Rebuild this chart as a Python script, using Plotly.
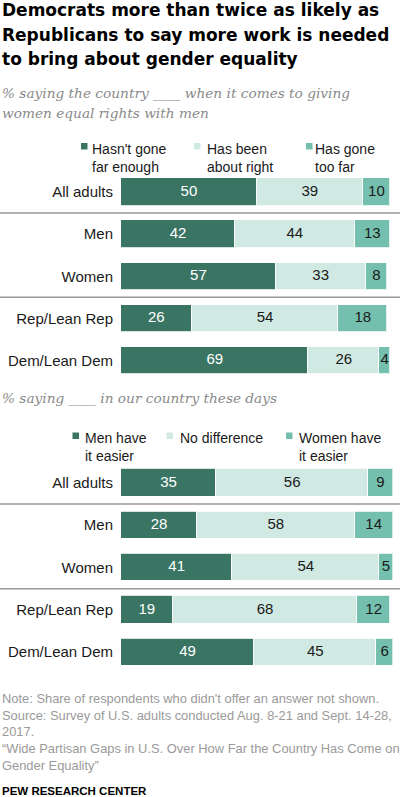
import plotly.graph_objects as go

categories = ["All adults", "Men", "Women", "Rep/Lean Rep", "Dem/Lean Dem"]
rights_not_far = [50, 42, 57, 26, 69]
rights_right = [39, 44, 33, 54, 26]
rights_too_far = [10, 13, 8, 18, 4]
easier_men = [35, 28, 41, 19, 49]
easier_none = [56, 58, 54, 68, 45]
easier_women = [9, 14, 5, 12, 6]
legend1 = ["Hasn't gone<br>far enough", "Has been<br>about right", "Has gone<br>too far"]
legend2 = ["Men have<br>it easier", "No difference", "Women have<br>it easier"]
title_lines = [
    "Democrats more than twice as likely as",
    "Republicans to say more work is needed",
    "to bring about gender equality",
]
footer_lines = [
    "Note: Share of respondents who didn't offer an answer not shown.",
    "Source: Survey of U.S. adults conducted Aug. 8-21 and Sept. 14-28,",
    "2017.",
    "\u201cWide Partisan Gaps in U.S. Over How Far the Country Has Come on",
    "Gender Equality\u201d",
]

W, H = 400, 797
DARK, LIGHT, MED = "#3a7563", "#d1e9e3", "#74bfad"
COLORS = [DARK, LIGHT, MED]
TXT = ["#ffffff", "#1a1a1a", "#1a1a1a"]
SANS = "Liberation Sans, Arial, sans-serif"
SERIF = "DejaVu Serif, Georgia, serif"
TITLE_FONT = "DejaVu Sans, Liberation Sans, sans-serif"


def py(p):
    return 1 - p / H


def px(p):
    return p / W


fig = go.Figure()

panels = [
    ([rights_not_far, rights_right, rights_too_far], "x", "y"),
    ([easier_men, easier_none, easier_women], "x2", "y2"),
]
for series, xa, ya in panels:
    cum = [0] * len(categories)
    for k, vals in enumerate(series):
        fig.add_trace(go.Bar(
            x=vals, y=categories, orientation="h", xaxis=xa, yaxis=ya,
            marker=dict(color=COLORS[k], line=dict(color="rgba(255,255,255,0.8)", width=1)),
            width=0.65, showlegend=False, hoverinfo="skip",
        ))
        fig.add_trace(go.Scatter(
            x=[c + v / 2 for c, v in zip(cum, vals)], y=categories, mode="text",
            text=[str(v) for v in vals], xaxis=xa, yaxis=ya,
            textfont=dict(family=SANS, size=15, color=TXT[k]),
            showlegend=False, hoverinfo="skip",
        ))
        cum = [c + v for c, v in zip(cum, vals)]

xdom = [121 / W, 392.7 / W]
y1dom = [py(381.5), py(171)]
y2dom = [py(673.2), py(461.8)]
xcommon = dict(range=[0, 100], domain=xdom, visible=False, fixedrange=True)
ycommon = dict(type="category", autorange="reversed", ticks="", showgrid=False,
               zeroline=False, showline=False, ticklabelstandoff=7,
               tickfont=dict(family=SANS, size=15, color="#1a1a1a"))

fig.update_layout(
    width=W, height=H, margin=dict(l=0, r=0, t=0, b=0),
    paper_bgcolor="white", plot_bgcolor="white", barmode="stack", bargap=0,
    xaxis=dict(**xcommon, anchor="y"),
    yaxis=dict(**ycommon, domain=y1dom, anchor="x"),
    xaxis2=dict(**xcommon, anchor="y2"),
    yaxis2=dict(**ycommon, domain=y2dom, anchor="x2"),
)

shapes = []
for yref in ["y", "y2"]:
    for yv in [0.5, 2.5]:
        shapes.append(dict(type="line", xref="paper", yref=yref, x0=0, x1=1, y0=yv, y1=yv,
                           line=dict(color="#9a9a9a", width=1.5)))

ann = []


def text_line(txt, xp, ymid, family, size, color):
    ann.append(dict(text=txt, x=px(xp), y=py(ymid), xanchor="left", yanchor="middle",
                    align="left", showarrow=False, xref="paper", yref="paper",
                    font=dict(family=family, size=size, color=color)))


for line, yy in zip(title_lines, [10.2, 34.6, 59.4]):
    text_line("<b>" + line + "</b>", 0, yy, TITLE_FONT, 17, "#000")
text_line("<i>% saying the country ____ when it comes to giving</i>", 0, 92.5, SERIF, 13.7, "#8a8a8a")
text_line("<i>women equal rights with men</i>", 0, 112.5, SERIF, 13.7, "#8a8a8a")
text_line("<i>% saying ____ in our country these days</i>", 0, 397.8, SERIF, 13.7, "#8a8a8a")

leg_specs = [
    (legend1, [81, 194, 306], [90, 205, 313], 139, 143),
    (legend2, [72.5, 166.5, 286], [83, 178, 297], 428, 432.5),
]
for labels, sqx, tx, ttop, sqtop in leg_specs:
    for k, lab in enumerate(labels):
        shapes.append(dict(type="rect", xref="paper", yref="paper",
                           x0=px(sqx[k]), x1=px(sqx[k] + 6.5), y0=py(sqtop), y1=py(sqtop + 6.5),
                           fillcolor=COLORS[k], line=dict(width=0)))
        ann.append(dict(text=lab, x=px(tx[k]), y=py(ttop), xanchor="left", yanchor="top",
                        align="left", showarrow=False, xref="paper", yref="paper",
                        font=dict(family=SANS, size=14, color="#1a1a1a")))

foot_y = [698.3, 715, 731.5, 748, 765]
for line, yy in zip(footer_lines, foot_y):
    text_line(line, 0, yy, SANS, 12.9, "#9a9a9a")
text_line("<b>PEW RESEARCH CENTER</b>", 0, 790.5, SANS, 11.5, "#000")

fig.update_layout(shapes=shapes, annotations=ann)
fig.write_html("out.html", config={"displayModeBar": False},
               post_script="document.body.style.margin='0';document.body.style.overflow='hidden';")
